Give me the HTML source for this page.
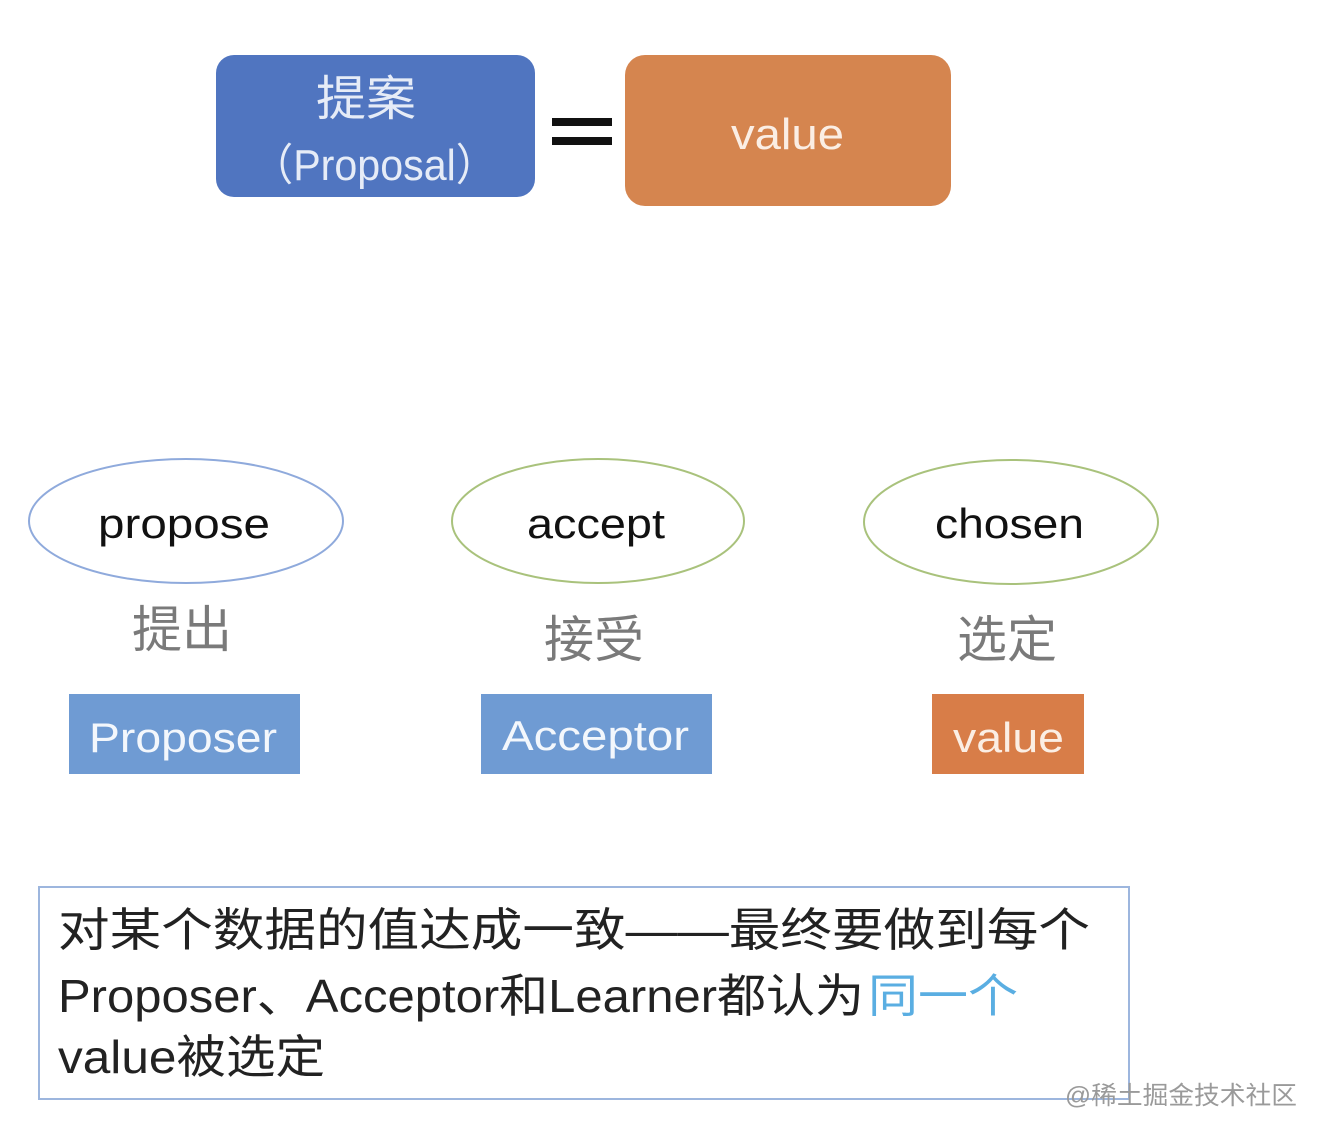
<!DOCTYPE html>
<html><head><meta charset="utf-8"><style>
html,body{margin:0;padding:0;background:#fff;}
svg{display:block;}
text{font-family:"Liberation Sans","Noto Sans CJK SC",sans-serif;}
</style></head><body>
<svg width="1319" height="1126" viewBox="0 0 1319 1126" xmlns="http://www.w3.org/2000/svg">
<rect x="216" y="55" width="319" height="142" rx="18" fill="#5075c0"/>
<text x="316" y="115" font-size="48" fill="#e6ecf7" textLength="100" lengthAdjust="spacingAndGlyphs">提案</text>
<text x="252" y="180" font-size="44" fill="#e6ecf7" textLength="245" lengthAdjust="spacingAndGlyphs">（Proposal）</text>
<rect x="552" y="118" width="60" height="8" fill="#111"/>
<rect x="552" y="137" width="60" height="8" fill="#111"/>
<rect x="625" y="55" width="326" height="151" rx="20" fill="#d5854f"/>
<text x="731" y="149" font-size="44" fill="#fbeee4" textLength="113" lengthAdjust="spacingAndGlyphs">value</text>

<ellipse cx="186" cy="521" rx="157" ry="62" fill="none" stroke="#8faadc" stroke-width="2"/>
<ellipse cx="598" cy="521" rx="146" ry="62" fill="none" stroke="#a9c27c" stroke-width="2"/>
<ellipse cx="1011" cy="522" rx="147" ry="62" fill="none" stroke="#a9c27c" stroke-width="2"/>
<text x="98" y="538" font-size="42" fill="#111" textLength="172" lengthAdjust="spacingAndGlyphs">propose</text>
<text x="527" y="538" font-size="42" fill="#111" textLength="138" lengthAdjust="spacingAndGlyphs">accept</text>
<text x="935" y="538" font-size="42" fill="#111" textLength="149" lengthAdjust="spacingAndGlyphs">chosen</text>
<text x="132" y="647" font-size="50" fill="#7a7a7a" textLength="100" lengthAdjust="spacingAndGlyphs">提出</text>
<text x="544" y="657" font-size="50" fill="#7a7a7a" textLength="100" lengthAdjust="spacingAndGlyphs">接受</text>
<text x="957" y="657" font-size="50" fill="#7a7a7a" textLength="100" lengthAdjust="spacingAndGlyphs">选定</text>

<rect x="69" y="694" width="231" height="80" fill="#6f9bd3"/>
<rect x="481" y="694" width="231" height="80" fill="#6f9bd3"/>
<rect x="932" y="694" width="152" height="80" fill="#d87d48"/>
<text x="89" y="752" font-size="42" fill="#f3f7fc" textLength="188" lengthAdjust="spacingAndGlyphs">Proposer</text>
<text x="502" y="750" font-size="42" fill="#f3f7fc" textLength="187" lengthAdjust="spacingAndGlyphs">Acceptor</text>
<text x="953" y="752" font-size="42" fill="#fbeee4" textLength="111" lengthAdjust="spacingAndGlyphs">value</text>

<rect x="39" y="887" width="1090" height="212" fill="none" stroke="#9db6de" stroke-width="2"/>
<text x="58" y="946" font-size="46" fill="#222" textLength="1032" lengthAdjust="spacingAndGlyphs">对某个数据的值达成一致——最终要做到每个</text>
<text x="58" y="1012" font-size="46" fill="#222" textLength="806" lengthAdjust="spacingAndGlyphs">Proposer、Acceptor和Learner都认为</text>
<text x="868" y="1012" font-size="46" fill="#5aaee2" textLength="150" lengthAdjust="spacingAndGlyphs">同一个</text>
<text x="58" y="1073" font-size="46" fill="#222" textLength="267" lengthAdjust="spacingAndGlyphs">value被选定</text>
<text x="1065" y="1104" font-size="25" fill="#9a9a9a" textLength="232" lengthAdjust="spacingAndGlyphs">@稀土掘金技术社区</text>
</svg>
</body></html>
